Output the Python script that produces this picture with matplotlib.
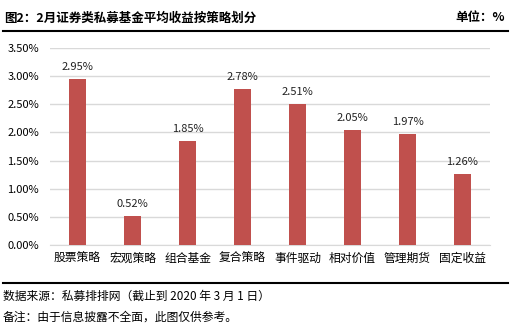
import matplotlib.pyplot as plt
from matplotlib.ticker import FuncFormatter
from matplotlib.lines import Line2D

plt.rcParams['font.family'] = ['Noto Sans CJK SC', 'DejaVu Sans']

strategies = ['股票策略', '宏观策略', '组合基金', '复合策略', '事件驱动', '相对价值', '管理期货', '固定收益']
returns = [2.95, 0.52, 1.85, 2.78, 2.51, 2.05, 1.97, 1.26]
yticks = [0, 0.5, 1.0, 1.5, 2.0, 2.5, 3.0, 3.5]

fig = plt.figure(figsize=(5.11, 3.31), dpi=100)
ax = fig.add_axes([50 / 511, 1 - 245 / 331, 440 / 511, 197 / 331])

x = range(len(strategies))
bars = ax.bar(x, returns, width=0.31, color='#C0504D', zorder=3)
for b, v in zip(bars, returns):
    ax.text(b.get_x() + b.get_width() / 2, v + 0.12, f'{v:.2f}%',
            ha='center', va='bottom', fontsize=8, color='#222222')

ax.set_xlim(-0.5, len(strategies) - 0.5)
ax.set_ylim(0, 3.5)
ax.set_yticks(yticks)
ax.yaxis.set_major_formatter(FuncFormatter(lambda v, _: f'{v:.2f}%'))
ax.set_xticks(list(x))
ax.set_xticklabels(strategies, fontsize=8.5)
ax.tick_params(axis='y', labelsize=8, length=0, pad=8)
ax.tick_params(axis='x', length=0, pad=5)
ax.grid(axis='y', color='#D9D9D9', linewidth=1, zorder=0)
for s in ['top', 'right', 'left']:
    ax.spines[s].set_visible(False)
ax.spines['bottom'].set_color('#D9D9D9')

# header and footer
fig.text(4 / 511, 1 - 18 / 331, '图2：2月证券类私募基金平均收益按策略划分',
         fontsize=9, fontweight='bold', va='center', ha='left')
fig.text(505 / 511, 1 - 18 / 331, '单位：%',
         fontsize=9, fontweight='bold', va='center', ha='right')
fig.add_artist(Line2D([3 / 511, 508 / 511], [1 - 31 / 331, 1 - 31 / 331],
                      color='black', linewidth=1.5, transform=fig.transFigure))
fig.add_artist(Line2D([3 / 511, 508 / 511], [1 - 283 / 331, 1 - 283 / 331],
                      color='black', linewidth=1.5, transform=fig.transFigure))
fig.text(3 / 511, 1 - 296 / 331, '数据来源：私募排排网（截止到 2020 年 3 月 1 日）',
         fontsize=8.5, va='center', ha='left')
fig.text(3 / 511, 1 - 317 / 331, '备注：由于信息披露不全面，此图仅供参考。',
         fontsize=8.5, va='center', ha='left')

fig.savefig('out.png', dpi=100)
